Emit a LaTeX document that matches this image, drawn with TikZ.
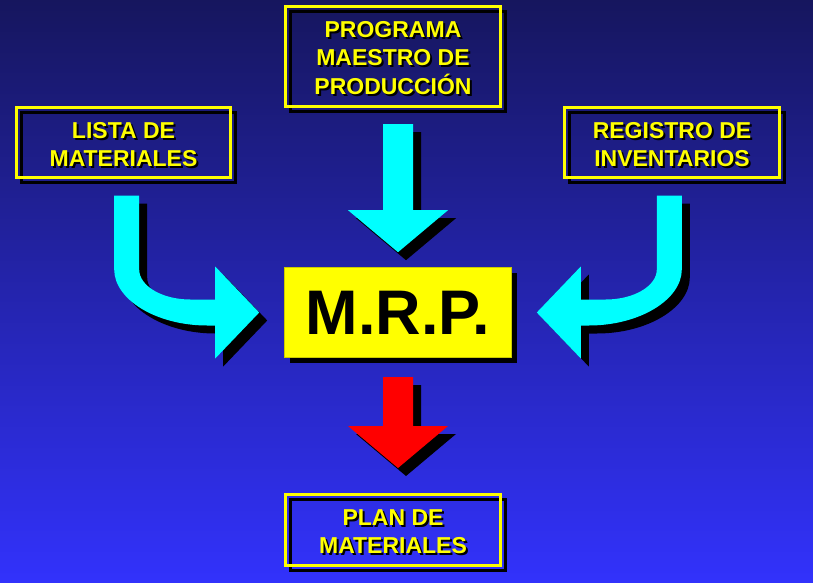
\documentclass[tikz,border=0pt]{standalone}
\usepackage{fontspec}
\setmainfont{Liberation Sans}
\usetikzlibrary{shadows,calc}

\definecolor{navytop}{RGB}{22,22,94}
\definecolor{navybottom}{RGB}{50,50,252}
\definecolor{aqua}{RGB}{0,255,255}
\definecolor{lemon}{RGB}{255,255,0}
\definecolor{redfill}{RGB}{255,0,0}

\newcommand\shtext[1]{\raisebox{-5pt}[\height][\depth]{%
  \makebox[0pt][l]{\hspace{2pt}\raisebox{-2pt}{\textcolor{black}{\begin{tabular}{@{}c@{}}#1\end{tabular}}}}%
  \begin{tabular}{@{}c@{}}#1\end{tabular}}}

\tikzset{
  inbox/.style={draw=lemon, line width=3pt, inner sep=0pt, text=lemon,
    font=\fontsize{23}{28}\selectfont\bfseries,
    drop shadow={shadow xshift=5pt, shadow yshift=-5pt, fill=none,
      draw=black, line width=3pt, opacity=1}},
  mrpbox/.style={fill=lemon, draw=lemon!80!black, line width=0.6pt,
    inner sep=0pt, text=black, font=\fontsize{63}{70}\selectfont\bfseries,
    drop shadow={shadow xshift=5pt, shadow yshift=-5pt, fill=black, opacity=1}},
  pics/downarrow/.style={code={
    \fill (-15,-#1) -- (15,-#1) -- (15,-42) -- (50,-42) -- (0,0)
      -- (-50,-42) -- (-15,-42) -- cycle;}},
  pics/bentarrow/.style={code={
    \fill (-145,-117) -- (-120,-117) -- (-120,-43)
      .. controls (-120,-26.5) and (-97,-13) .. (-69,-13)
      -- (-44,-13) -- (-44,-46) -- (0,0) -- (-44,46) -- (-44,13) -- (-52,13)
      .. controls (-103,13) and (-145,-13) .. (-145,-43) -- cycle;}}
}

\begin{document}
\begin{tikzpicture}[x=1pt, y=-1pt]
  \useasboundingbox (0,0) rectangle (813,583);
  \shade[top color=navytop, bottom color=navybottom] (0,0) rectangle (813,583);

  % boxes
  \node[inbox, minimum width=215, minimum height=100] (prog) at (393,56.5)
    {\shtext{PROGRAMA\\MAESTRO DE\\PRODUCCIÓN}};
  \node[inbox, minimum width=214, minimum height=70] (lista) at (123.5,142.5)
    {\shtext{LISTA DE\\MATERIALES}};
  \node[inbox, minimum width=215, minimum height=70] (registro) at (672,142.5)
    {\shtext{REGISTRO DE\\INVENTARIOS}};
  \node[mrpbox, minimum width=227, minimum height=90] (mrp) at (398,312.5)
    {M.R.P.};
  \node[inbox, minimum width=215, minimum height=71] (plan) at (393,530)
    {\shtext{PLAN DE\\MATERIALES}};

  % arrow tips
  \coordinate (toptip) at ($(mrp.north)+(0,-15)$);
  \coordinate (lefttip) at ($(mrp.west)+(-25,0)$);
  \coordinate (righttip) at ($(mrp.east)+(25,0)$);
  \coordinate (redtip) at ($(mrp.south |- plan.north)+(0,-25)$);

  % arrows
  \pic[black] at ($(toptip)+(8,8)$) {downarrow=128};
  \pic[aqua] at (toptip) {downarrow=128};
  \pic[black] at ($(lefttip)+(8,8)$) {bentarrow};
  \pic[aqua] at (lefttip) {bentarrow};
  \pic[black, xscale=-1] at ($(righttip)+(8,8)$) {bentarrow};
  \pic[aqua, xscale=-1] at (righttip) {bentarrow};
  \pic[black] at ($(redtip)+(8,8)$) {downarrow=91};
  \pic[redfill] at (redtip) {downarrow=91};
\end{tikzpicture}
\end{document}
